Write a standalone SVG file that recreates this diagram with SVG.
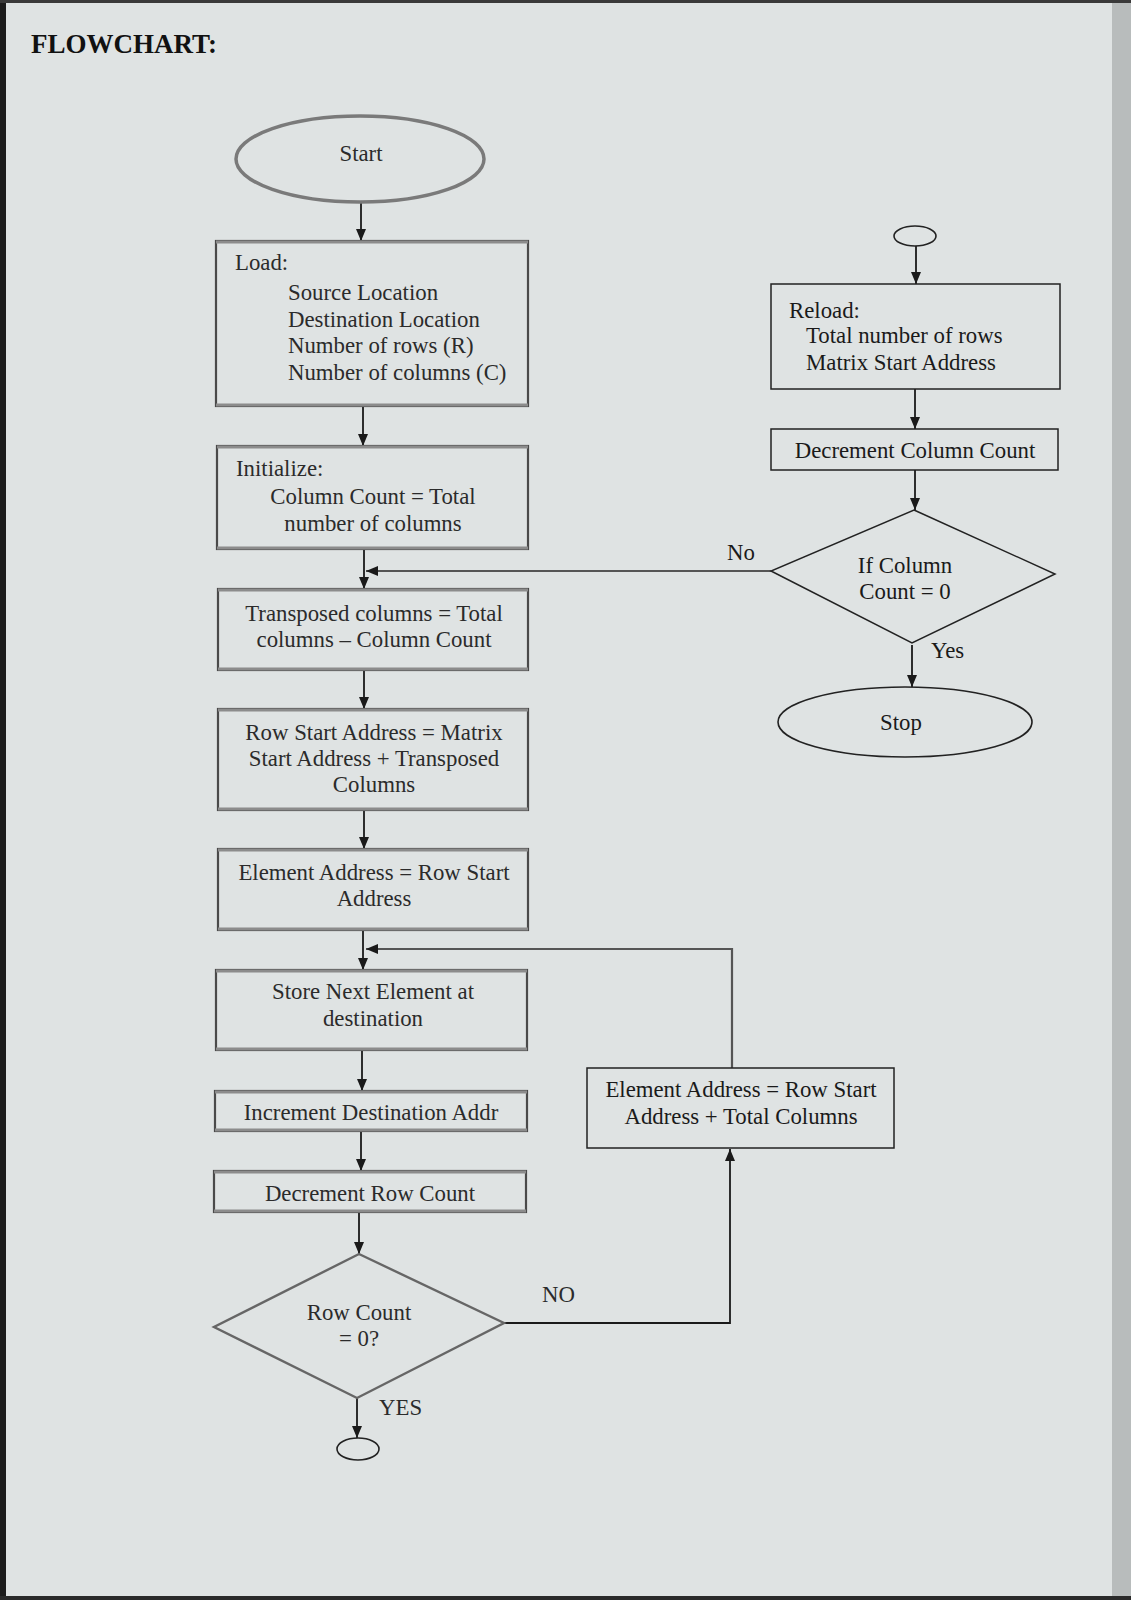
<svg xmlns="http://www.w3.org/2000/svg" width="1131" height="1600" viewBox="0 0 1131 1600">
<defs>
<marker id="ah" viewBox="0 0 12 10" refX="12" refY="5" markerWidth="12" markerHeight="10" markerUnits="userSpaceOnUse" orient="auto">
<path d="M0,0 L12,5 L0,10 Z" fill="#1a1a1a"/>
</marker>
</defs>
<style>
.bg{fill:#dfe3e3}
.lbox{fill:none;stroke:#4a4a4a;stroke-width:2.2}
.rbox{fill:none;stroke:#222;stroke-width:1.5}
.band{stroke:#8c8c8c;stroke-width:3}
.term{fill:none;stroke:#7a7a7a;stroke-width:3.5}
.rterm{fill:none;stroke:#222;stroke-width:1.6}
.ldia{fill:none;stroke:#666;stroke-width:2.4}
.rdia{fill:none;stroke:#222;stroke-width:1.5}
.conn{fill:none;stroke:#1a1a1a;stroke-width:1.8}
.connl{fill:none;stroke:#555;stroke-width:2.2}
.lt{font-family:"Liberation Serif","Times New Roman",serif;font-size:22.8px;fill:#2b2b2b}
.rt{font-family:"Liberation Serif","Times New Roman",serif;font-size:22.8px;fill:#1a1a1a}
.c{text-anchor:middle}
.title{font-family:"Liberation Serif","Times New Roman",serif;font-size:27px;font-weight:bold;fill:#111}
</style>
<rect class="bg" x="0" y="0" width="1131" height="1600"/>
<rect x="1112" y="0" width="19" height="1600" fill="#b8bcbc"/>
<rect x="0" y="0" width="6" height="1600" fill="#1c1c1c"/>
<rect x="0" y="0" width="1131" height="3" fill="#3a3a3a"/>
<rect x="0" y="1596" width="1131" height="4" fill="#2a2a2a"/>

<text class="title" x="31" y="53">FLOWCHART:</text>

<g id="connectors">
<line class="conn" x1="361" y1="202" x2="361" y2="241" marker-end="url(#ah)"/>
<line class="conn" x1="363" y1="406" x2="363" y2="446" marker-end="url(#ah)"/>
<line class="conn" x1="364" y1="549" x2="364" y2="589" marker-end="url(#ah)"/>
<line class="connl" x1="771" y1="571" x2="366" y2="571" marker-end="url(#ah)"/>
<line class="conn" x1="364" y1="670" x2="364" y2="709" marker-end="url(#ah)"/>
<line class="conn" x1="364" y1="810" x2="364" y2="849" marker-end="url(#ah)"/>
<line class="conn" x1="363" y1="930" x2="363" y2="970" marker-end="url(#ah)"/>
<polyline class="connl" points="732,1068 732,949 366,949" marker-end="url(#ah)"/>
<line class="conn" x1="362" y1="1050" x2="362" y2="1091" marker-end="url(#ah)"/>
<line class="conn" x1="361" y1="1131" x2="361" y2="1171" marker-end="url(#ah)"/>
<line class="conn" x1="359" y1="1212" x2="359" y2="1254" marker-end="url(#ah)"/>
<polyline class="conn" points="504,1323 730,1323 730,1149" marker-end="url(#ah)"/>
<line class="conn" x1="357" y1="1398" x2="357" y2="1438" marker-end="url(#ah)"/>
<line class="conn" x1="916" y1="246" x2="916" y2="284" marker-end="url(#ah)"/>
<line class="conn" x1="915" y1="389" x2="915" y2="429" marker-end="url(#ah)"/>
<line class="conn" x1="915" y1="470" x2="915" y2="510" marker-end="url(#ah)"/>
<line class="conn" x1="912" y1="645" x2="912" y2="687" marker-end="url(#ah)"/>
<text class="rt" x="727" y="560">No</text>
<text class="rt" x="931" y="658">Yes</text>
<text class="lt" x="542" y="1302">NO</text>
<text class="lt" x="379" y="1415">YES</text>
</g>

<g id="start">
<ellipse class="term" cx="360" cy="159" rx="124" ry="43"/>
<text class="lt c" x="361" y="161">Start</text>
</g>

<g id="load">
<rect class="lbox" x="216" y="241" width="312" height="165"/>
<line class="band" x1="216" y1="242" x2="528" y2="242"/>
<line class="band" x1="216" y1="405" x2="528" y2="405"/>
<text class="lt" x="235" y="270">Load:</text>
<text class="lt" x="288" y="300">Source Location</text>
<text class="lt" x="288" y="327">Destination Location</text>
<text class="lt" x="288" y="353">Number of rows (R)</text>
<text class="lt" x="288" y="380">Number of columns (C)</text>
</g>

<g id="init">
<rect class="lbox" x="217" y="446" width="311" height="103"/>
<line class="band" x1="217" y1="447" x2="528" y2="447"/>
<line class="band" x1="217" y1="548" x2="528" y2="548"/>
<text class="lt" x="236" y="476">Initialize:</text>
<text class="lt c" x="373" y="504">Column Count = Total</text>
<text class="lt c" x="373" y="531">number of columns</text>
</g>

<g id="transposed">
<rect class="lbox" x="218" y="589" width="310" height="81"/>
<line class="band" x1="218" y1="590" x2="528" y2="590"/>
<line class="band" x1="218" y1="669" x2="528" y2="669"/>
<text class="lt c" x="374" y="621">Transposed columns = Total</text>
<text class="lt c" x="374" y="647">columns – Column Count</text>
</g>

<g id="rowstart">
<rect class="lbox" x="218" y="709" width="310" height="101"/>
<line class="band" x1="218" y1="710" x2="528" y2="710"/>
<line class="band" x1="218" y1="809" x2="528" y2="809"/>
<text class="lt c" x="374" y="740">Row Start Address = Matrix</text>
<text class="lt c" x="374" y="766">Start Address + Transposed</text>
<text class="lt c" x="374" y="792">Columns</text>
</g>

<g id="elemaddr">
<rect class="lbox" x="218" y="849" width="310" height="81"/>
<line class="band" x1="218" y1="850" x2="528" y2="850"/>
<line class="band" x1="218" y1="929" x2="528" y2="929"/>
<text class="lt c" x="374" y="880">Element Address = Row Start</text>
<text class="lt c" x="374" y="906">Address</text>
</g>

<g id="store">
<rect class="lbox" x="216" y="970" width="311" height="80"/>
<line class="band" x1="216" y1="971" x2="527" y2="971"/>
<line class="band" x1="216" y1="1049" x2="527" y2="1049"/>
<text class="lt c" x="373" y="999">Store Next Element at</text>
<text class="lt c" x="373" y="1026">destination</text>
</g>

<g id="incdest">
<rect class="lbox" x="215" y="1091" width="312" height="40"/>
<line class="band" x1="215" y1="1092" x2="527" y2="1092"/>
<line class="band" x1="215" y1="1130" x2="527" y2="1130"/>
<text class="lt c" x="371" y="1120">Increment Destination Addr</text>
</g>

<g id="decrow">
<rect class="lbox" x="214" y="1171" width="312" height="41"/>
<line class="band" x1="214" y1="1172" x2="526" y2="1172"/>
<line class="band" x1="214" y1="1211" x2="526" y2="1211"/>
<text class="lt c" x="370" y="1201">Decrement Row Count</text>
</g>

<g id="rowcheck">
<polygon class="ldia" points="359,1254 504,1323 357,1398 214,1327"/>
<text class="lt c" x="359" y="1320">Row Count</text>
<text class="lt c" x="359" y="1346">= 0?</text>
</g>

<g id="end">
<ellipse class="rterm" cx="358" cy="1449" rx="21" ry="11"/>
</g>

<g id="nextrow">
<rect class="rbox" x="587" y="1068" width="307" height="80"/>
<text class="rt c" x="741" y="1097">Element Address = Row Start</text>
<text class="rt c" x="741" y="1124">Address + Total Columns</text>
</g>

<g id="connector-in">
<ellipse class="rterm" cx="915" cy="236" rx="21" ry="10"/>
</g>

<g id="reload">
<rect class="rbox" x="771" y="284" width="289" height="105"/>
<text class="rt" x="789" y="318">Reload:</text>
<text class="rt" x="806" y="343">Total number of rows</text>
<text class="rt" x="806" y="370">Matrix Start Address</text>
</g>

<g id="deccol">
<rect class="rbox" x="771" y="429" width="287" height="41"/>
<text class="rt c" x="915" y="458">Decrement Column Count</text>
</g>

<g id="colcheck">
<polygon class="rdia" points="914,510 1055,574 912,643 771,571"/>
<text class="rt c" x="905" y="573">If Column</text>
<text class="rt c" x="905" y="599">Count = 0</text>
</g>

<g id="stop">
<ellipse class="rterm" cx="905" cy="722" rx="127" ry="35"/>
<text class="rt c" x="901" y="730">Stop</text>
</g>
</svg>
